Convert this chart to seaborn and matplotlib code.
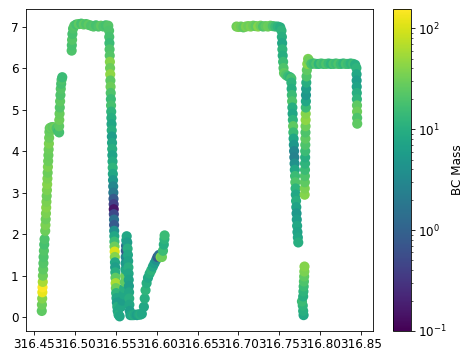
import numpy as np
import pandas as pd
import seaborn as sns
import matplotlib
matplotlib.use('Agg')
import matplotlib.pyplot as plt
from matplotlib.colors import LogNorm
from matplotlib.cm import ScalarMappable

# first flight leg: day of year, altitude (km), BC mass
leg1_time = [
    316.4598, 316.4600, 316.4603, 316.4605, 316.4607, 316.4610, 316.4612, 316.4615, 316.4618,
    316.4620, 316.4624, 316.4628, 316.4632,
    316.4640, 316.4643, 316.4646, 316.4649, 316.4652, 316.4655, 316.4658, 316.4661, 316.4664,
    316.4667, 316.4670, 316.4673, 316.4676, 316.4679, 316.4682, 316.4685, 316.4688, 316.4691,
    316.4695,
    316.4710, 316.4730, 316.4755, 316.4780, 316.4800, 316.4810,
    316.4810, 316.4812, 316.4815, 316.4818, 316.4822, 316.4826, 316.4830, 316.4835, 316.4840,
    316.4848,
]
leg1_alt = [
    0.15, 0.30, 0.45, 0.60, 0.72, 0.85, 1.00, 1.15, 1.30, 1.45, 1.60, 1.75, 1.88,
    2.08, 2.22, 2.36, 2.50, 2.64, 2.78, 2.92, 3.06, 3.20, 3.34, 3.48, 3.62, 3.76, 3.90, 4.04,
    4.18, 4.32, 4.46, 4.55,
    4.57, 4.58, 4.57, 4.55, 4.48, 4.45,
    4.60, 4.75, 4.90, 5.05, 5.20, 5.35, 5.50, 5.62, 5.72, 5.78,
]
leg1_bc = [
    25, 30, 40, 120, 150, 60, 30, 25, 22, 20, 22, 18, 20,
    30, 35, 30, 35, 40, 35, 30, 35, 40, 35, 30, 35, 30, 28, 30, 35, 30, 28, 25,
    30, 25, 30, 20, 15, 18,
    25, 30, 28, 22, 25, 20, 22, 18, 20, 15,
]

# second leg: top of climb, cruise at 7 km and descent
leg2_time = [
    316.4963, 316.4965, 316.4968, 316.4972, 316.4980, 316.4995, 316.5020, 316.5050, 316.5080,
    316.5110, 316.5140, 316.5170, 316.5200, 316.5230, 316.5260, 316.5290, 316.5320, 316.5350,
    316.5380, 316.5410, 316.5420,
    316.5422, 316.5424, 316.5426, 316.5428, 316.5430, 316.5432, 316.5434, 316.5436, 316.5438,
    316.5440, 316.5442, 316.5444, 316.5446, 316.5448, 316.5450, 316.5452, 316.5454, 316.5456,
    316.5458, 316.5460, 316.5462, 316.5464, 316.5466, 316.5468, 316.5470, 316.5472, 316.5474,
    316.5476, 316.5477, 316.5478, 316.5480, 316.5481, 316.5482, 316.5484, 316.5485, 316.5486,
    316.5488, 316.5490, 316.5492, 316.5494, 316.5496, 316.5498, 316.5500, 316.5503, 316.5506,
    316.5510, 316.5515, 316.5520, 316.5525, 316.5535, 316.5549,
]
leg2_alt = [
    6.42, 6.55, 6.68, 6.82, 6.95, 7.02, 7.05, 7.06, 7.07, 7.05, 7.06, 7.04, 7.02, 7.00, 7.03,
    7.00, 7.02, 7.00, 7.03, 7.02, 6.90,
    6.75, 6.60, 6.45, 6.30, 6.15, 6.00, 5.85, 5.70, 5.55, 5.40, 5.25, 5.10, 4.95, 4.80, 4.65,
    4.50, 4.35, 4.20, 4.05, 3.90, 3.75, 3.60, 3.45, 3.30, 3.15, 3.00, 2.85, 2.72, 2.60, 2.48,
    2.35, 2.22, 2.08, 1.95, 1.82, 1.70, 1.58, 1.45, 1.32, 1.20, 1.08, 0.95, 0.82, 0.70, 0.58,
    0.46, 0.35, 0.25, 0.15, 0.06, 0.02,
]
leg2_bc = [
    20, 18, 22, 18, 20, 22, 18, 25, 18, 25, 20, 25, 20, 22, 18, 20, 25, 20, 18, 22, 20,
    18, 15, 20, 22, 40, 30, 45, 25, 30, 20, 15, 18, 12, 10, 8, 10, 6, 8, 10, 7, 9, 12, 8, 5,
    3, 2, 0.8, 0.4, 0.15, 0.5, 1.5, 0.8, 4, 8, 15, 30, 100, 40, 8, 6, 10, 25, 60, 30, 12, 8,
    6, 10, 8, 10, 8,
]

# low-level part: missed approach loops near the ground
leg3_time = [
    316.5565, 316.5580, 316.5595, 316.5605, 316.5612, 316.5616, 316.5619, 316.5621, 316.5623,
    316.5625, 316.5627, 316.5630, 316.5635,
    316.5642, 316.5646, 316.5650, 316.5653, 316.5656, 316.5658, 316.5660, 316.5662, 316.5664,
    316.5666, 316.5668, 316.5672, 316.5680,
    316.5700, 316.5720, 316.5740, 316.5760, 316.5780, 316.5800, 316.5820,
    316.5845, 316.5855, 316.5865, 316.5878, 316.5895, 316.5915, 316.5935, 316.5955, 316.5975,
    316.5995, 316.6010, 316.6030, 316.6050, 316.6065, 316.6078, 316.6088, 316.6095, 316.6098,
]
leg3_alt = [
    0.25, 0.40, 0.55, 0.70, 0.85, 1.00, 1.15, 1.30, 1.45, 1.60, 1.72, 1.85, 1.95,
    1.80, 1.65, 1.50, 1.35, 1.20, 1.05, 0.90, 0.75, 0.60, 0.45, 0.30, 0.15, 0.05,
    0.05, 0.05, 0.06, 0.05, 0.07, 0.06, 0.08,
    0.25, 0.45, 0.65, 0.82, 0.95, 1.05, 1.13, 1.22, 1.30, 1.38, 1.45, 1.50, 1.45, 1.45, 1.60,
    1.75, 1.88, 1.97,
]
leg3_bc = [
    8, 6, 8, 10, 25, 30, 8, 5, 3, 0.8, 1.5, 6, 8,
    6, 10, 8, 7, 10, 8, 7, 6, 8, 10, 8, 6, 7,
    8, 10, 8, 6, 8, 10, 8,
    8, 10, 12, 10, 8, 10, 12, 8, 6, 4, 0.8, 1.5, 40, 30, 15, 10, 12, 15,
]

# second flight: cruise, descent, go-around and climb to 6 km
leg4_time = [
    316.6976, 316.7000, 316.7030, 316.7060, 316.7090, 316.7120, 316.7150, 316.7180, 316.7210,
    316.7240, 316.7270, 316.7300, 316.7330, 316.7360, 316.7390, 316.7420, 316.7450, 316.7480,
    316.7510, 316.7525,
    316.7530, 316.7533, 316.7536, 316.7540, 316.7545, 316.7550, 316.7556, 316.7580, 316.7605,
    316.7630, 316.7645,
    316.7646, 316.7649, 316.7652, 316.7655, 316.7658, 316.7661, 316.7664, 316.7667, 316.7670,
    316.7673, 316.7676, 316.7679, 316.7682, 316.7685, 316.7688, 316.7691, 316.7694, 316.7697,
    316.7700, 316.7703, 316.7706, 316.7709, 316.7712, 316.7716, 316.7720, 316.7725, 316.7730,
]
leg4_alt = [
    7.00, 6.99, 7.00, 6.98, 7.00, 7.01, 7.00, 7.02, 7.01, 7.00, 7.02, 7.00, 7.01, 7.00, 7.02,
    7.01, 7.00, 7.00, 6.98, 6.90,
    6.75, 6.60, 6.45, 6.30, 6.15, 6.00, 5.88, 5.83, 5.80, 5.78, 5.75,
    5.65, 5.50, 5.35, 5.20, 5.05, 4.90, 4.75, 4.60, 4.45, 4.30, 4.15, 4.00, 3.85, 3.70, 3.55,
    3.40, 3.25, 3.10, 2.95, 2.80, 2.65, 2.50, 2.35, 2.20, 2.05, 1.92, 1.80,
]
leg4_bc = [
    30, 35, 30, 25, 35, 30, 35, 30, 25, 40, 30, 20, 25, 30, 28, 20, 15, 12, 10, 12,
    10, 8, 12, 10, 15, 20, 25, 20, 15, 12, 18,
    12, 10, 15, 20, 10, 8, 12, 25, 15, 8, 5, 3, 2.5, 4, 8, 15, 20, 12, 8, 10, 7, 5, 6, 8,
    7, 8, 10,
]

leg5_time = [
    316.7795, 316.7790, 316.7785, 316.7775, 316.7790, 316.7793, 316.7796, 316.7799, 316.7802,
    316.7804, 316.7806,
    316.7808, 316.7809, 316.7810, 316.7811, 316.7812, 316.7813, 316.7814, 316.7815, 316.7816,
    316.7817, 316.7818, 316.7819, 316.7820, 316.7821, 316.7822, 316.7823, 316.7824, 316.7826,
    316.7828, 316.7831, 316.7835, 316.7840, 316.7850, 316.7862,
    316.7890, 316.7920, 316.7950, 316.7980, 316.8010, 316.8040, 316.8070, 316.8100, 316.8130,
    316.8160, 316.8190, 316.8220, 316.8250, 316.8280, 316.8310, 316.8340, 316.8370, 316.8400,
    316.8425,
    316.8440, 316.8442, 316.8443, 316.8444, 316.8445, 316.8446, 316.8447, 316.8448, 316.8449,
    316.8450,
]
leg5_alt = [
    0.05, 0.15, 0.28, 0.38, 0.50, 0.62, 0.74, 0.86, 0.98, 1.10, 1.22,
    2.95, 3.10, 3.25, 3.40, 3.55, 3.70, 3.85, 4.00, 4.15, 4.30, 4.45, 4.60, 4.75, 4.90, 5.05,
    5.20, 5.35, 5.50, 5.65, 5.80, 5.95, 6.10, 6.22, 6.18,
    6.10, 6.11, 6.10, 6.10, 6.11, 6.10, 6.10, 6.11, 6.10, 6.10, 6.11, 6.10, 6.10, 6.11, 6.10,
    6.10, 6.11, 6.10, 6.08,
    6.00, 5.85, 5.70, 5.55, 5.40, 5.25, 5.10, 4.95, 4.80, 4.66,
]
leg5_bc = [
    8, 10, 12, 15, 10, 12, 15, 20, 25, 35, 40,
    40, 35, 25, 20, 15, 12, 10, 15, 20, 25, 20, 30, 45, 40, 15, 8, 5, 6, 10, 20, 25, 40, 35,
    30,
    18, 15, 20, 12, 18, 15, 20, 15, 12, 18, 15, 20, 15, 12, 18, 15, 12, 15, 10,
    12, 8, 6, 7, 10, 12, 25, 30, 20, 25,
]

df = pd.DataFrame({
    'time': leg1_time + leg2_time + leg3_time + leg4_time + leg5_time,
    'alt': leg1_alt + leg2_alt + leg3_alt + leg4_alt + leg5_alt,
    'bc': leg1_bc + leg2_bc + leg3_bc + leg4_bc + leg5_bc,
})

plt.rcParams['font.size'] = 11.5
norm = LogNorm(vmin=0.1, vmax=155)

fig = plt.figure(figsize=(474 / 75, 361 / 75), dpi=75)
ax = fig.add_axes([26 / 474, 30 / 361, 347 / 474, 322 / 361])
cax = fig.add_axes([393 / 474, 30 / 361, 18 / 474, 322 / 361])

sns.scatterplot(data=df, x='time', y='alt', hue='bc', hue_norm=norm, palette='viridis',
                s=95, linewidth=0, legend=False, ax=ax)
ax.set_xlabel('')
ax.set_ylabel('')

fig.colorbar(ScalarMappable(norm=norm, cmap='viridis'), cax=cax, label='BC Mass')

fig.savefig('out.png', dpi=75)
